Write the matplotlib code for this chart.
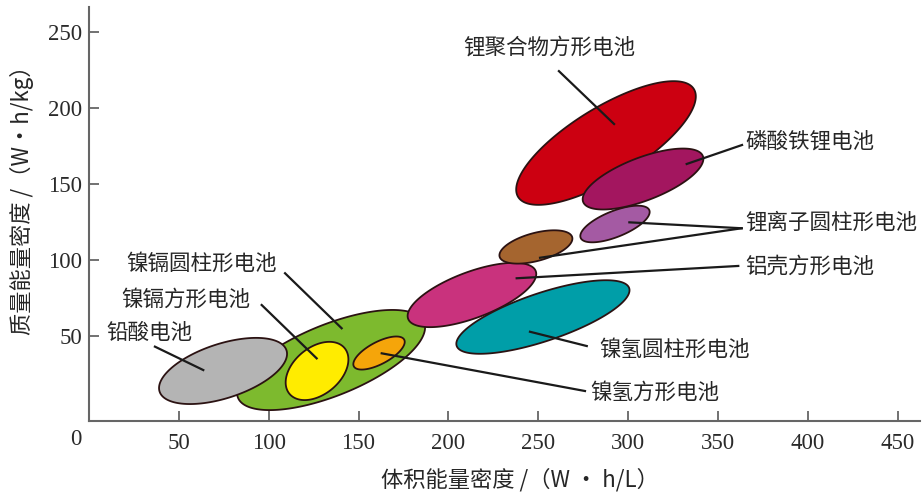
import numpy as np
import matplotlib
matplotlib.use("Agg")
from matplotlib import pyplot as plt

plt.rcParams['font.family'] = ['Noto Sans CJK SC', 'DejaVu Sans']

# battery regions: centre (Wh/L, Wh/kg) and two conjugate half-axes (data units)
names = ['镍镉圆柱形电池', '铅酸电池', '镍镉方形电池', '镍氢方形电池', '铝壳方形电池',
         '镍氢圆柱形电池', '锂离子圆柱形电池(软包)', '锂离子圆柱形电池', '锂聚合物方形电池', '磷酸铁锂电池']
cx = [134.7, 74.6, 126.9, 161.4, 213.1, 252.6, 248.7, 292.7, 287.7, 308.3]
cy = [34.0, 26.8, 26.8, 38.6, 76.8, 62.3, 108.4, 123.5, 176.8, 153.1]
ux = [51.8, 35.3, 15.3, 14.0, 35.5, 48.0, 20.2, 19.1, 48.9, 33.3]
uy = [24.8, 13.6, 15.1, 8.8, 15.7, 19.0, 6.4, 9.1, 35.5, 15.1]
vx = [-7.4, -4.7, -8.4, -2.9, -4.5, -4.2, -2.0, -2.7, -10.3, -4.3]
vy = [21.7, 17.0, 11.8, 6.4, 14.2, 15.0, 8.9, 7.9, 19.9, 13.2]
colors = ['#7dba2e', '#b4b4b4', '#ffec00', '#f5a50a', '#c9327d',
          '#009ea8', '#a5652f', '#a45aa3', '#cc0011', '#a3165f']

# labels and leader lines
label_text = ['锂聚合物方形电池', '磷酸铁锂电池', '锂离子圆柱形电池', '铝壳方形电池', '镍氢圆柱形电池',
              '镍氢方形电池', '镍镉圆柱形电池', '镍镉方形电池', '铅酸电池']
label_x = [208.1, 365.1, 365.1, 365.1, 283.8, 278.8, 21.0, 18.2, 9.5]
label_y = [239.3, 177.6, 124.1, 95.4, 40.6, 12.3, 97.6, 73.5, 51.6]
leaders = [
    [(261.5, 224.1), (292.2, 189.3)],
    [(363.4, 175.5), (332.6, 163.0)],
    [(363.2, 120.7), (300.7, 124.6)],
    [(363.2, 120.7), (251.0, 101.3)],
    [(361.3, 95.9), (238.0, 87.8)],
    [(277.0, 43.2), (245.4, 52.6)],
    [(276.0, 13.6), (162.9, 38.4)],
    [(109.1, 91.1), (140.6, 54.9)],
    [(96.1, 70.2), (126.7, 35.1)],
    [(36.7, 42.8), (63.6, 27.4)],
]

xticks = [50, 100, 150, 200, 250, 300, 350, 400, 450]
yticks = [50, 100, 150, 200, 250]

fig = plt.figure(figsize=(9.23, 5.0), dpi=100)
ax = fig.add_axes([0.0964, 0.159, 0.9003, 0.827])

t = np.linspace(0, 2 * np.pi, 240)
for i in range(len(cx)):
  xs = cx[i] + ux[i] * np.cos(t) + vx[i] * np.sin(t)
  ys = cy[i] + uy[i] * np.cos(t) + vy[i] * np.sin(t)
  ax.fill(xs, ys, facecolor=colors[i], edgecolor='#2b1212', lw=1.3, zorder=2)

for seg in leaders:
  ax.plot([seg[0][0], seg[1][0]], [seg[0][1], seg[1][1]], color='#1a1a1a', lw=1.6, zorder=3)

for txt, x, y in zip(label_text, label_x, label_y):
  ax.text(x, y, txt, ha='left', va='center', fontsize=15.5, color='#262626', zorder=4)

ax.set_xlim(0, 462.4)
ax.set_ylim(-5.8, 266.3)
ax.spines['top'].set_visible(False)
ax.spines['right'].set_visible(False)
for s in ['left', 'bottom']:
  ax.spines[s].set_color('#666666')
  ax.spines[s].set_linewidth(1.5)

ax.set_xticks(xticks)
ax.set_yticks(yticks)
ax.set_xticklabels([str(v) for v in xticks], family='Liberation Serif', fontsize=16.5, color='#2a2a2a')
ax.set_yticklabels([str(v) for v in yticks], family='Liberation Serif', fontsize=16.5, color='#2a2a2a')
ax.tick_params(axis='both', direction='in', length=7, width=1.3, color='#666666')
ax.tick_params(axis='x', pad=9)
ax.tick_params(axis='y', pad=5)
ax.text(-7.2, -18.6, '0', ha='center', va='center', family='Liberation Serif', fontsize=16.5,
        color='#2a2a2a', clip_on=False)

fig.text(0.5635, 0.04, '体积能量密度 /（W · h/L）', ha='center', va='center', fontsize=16, color='#262626')
fig.text(0.024, 0.61, '质量能量密度 /（W·h/kg）', ha='center', va='center', rotation=90,
         fontsize=16, color='#262626')

fig.savefig('out.png', dpi=100)
